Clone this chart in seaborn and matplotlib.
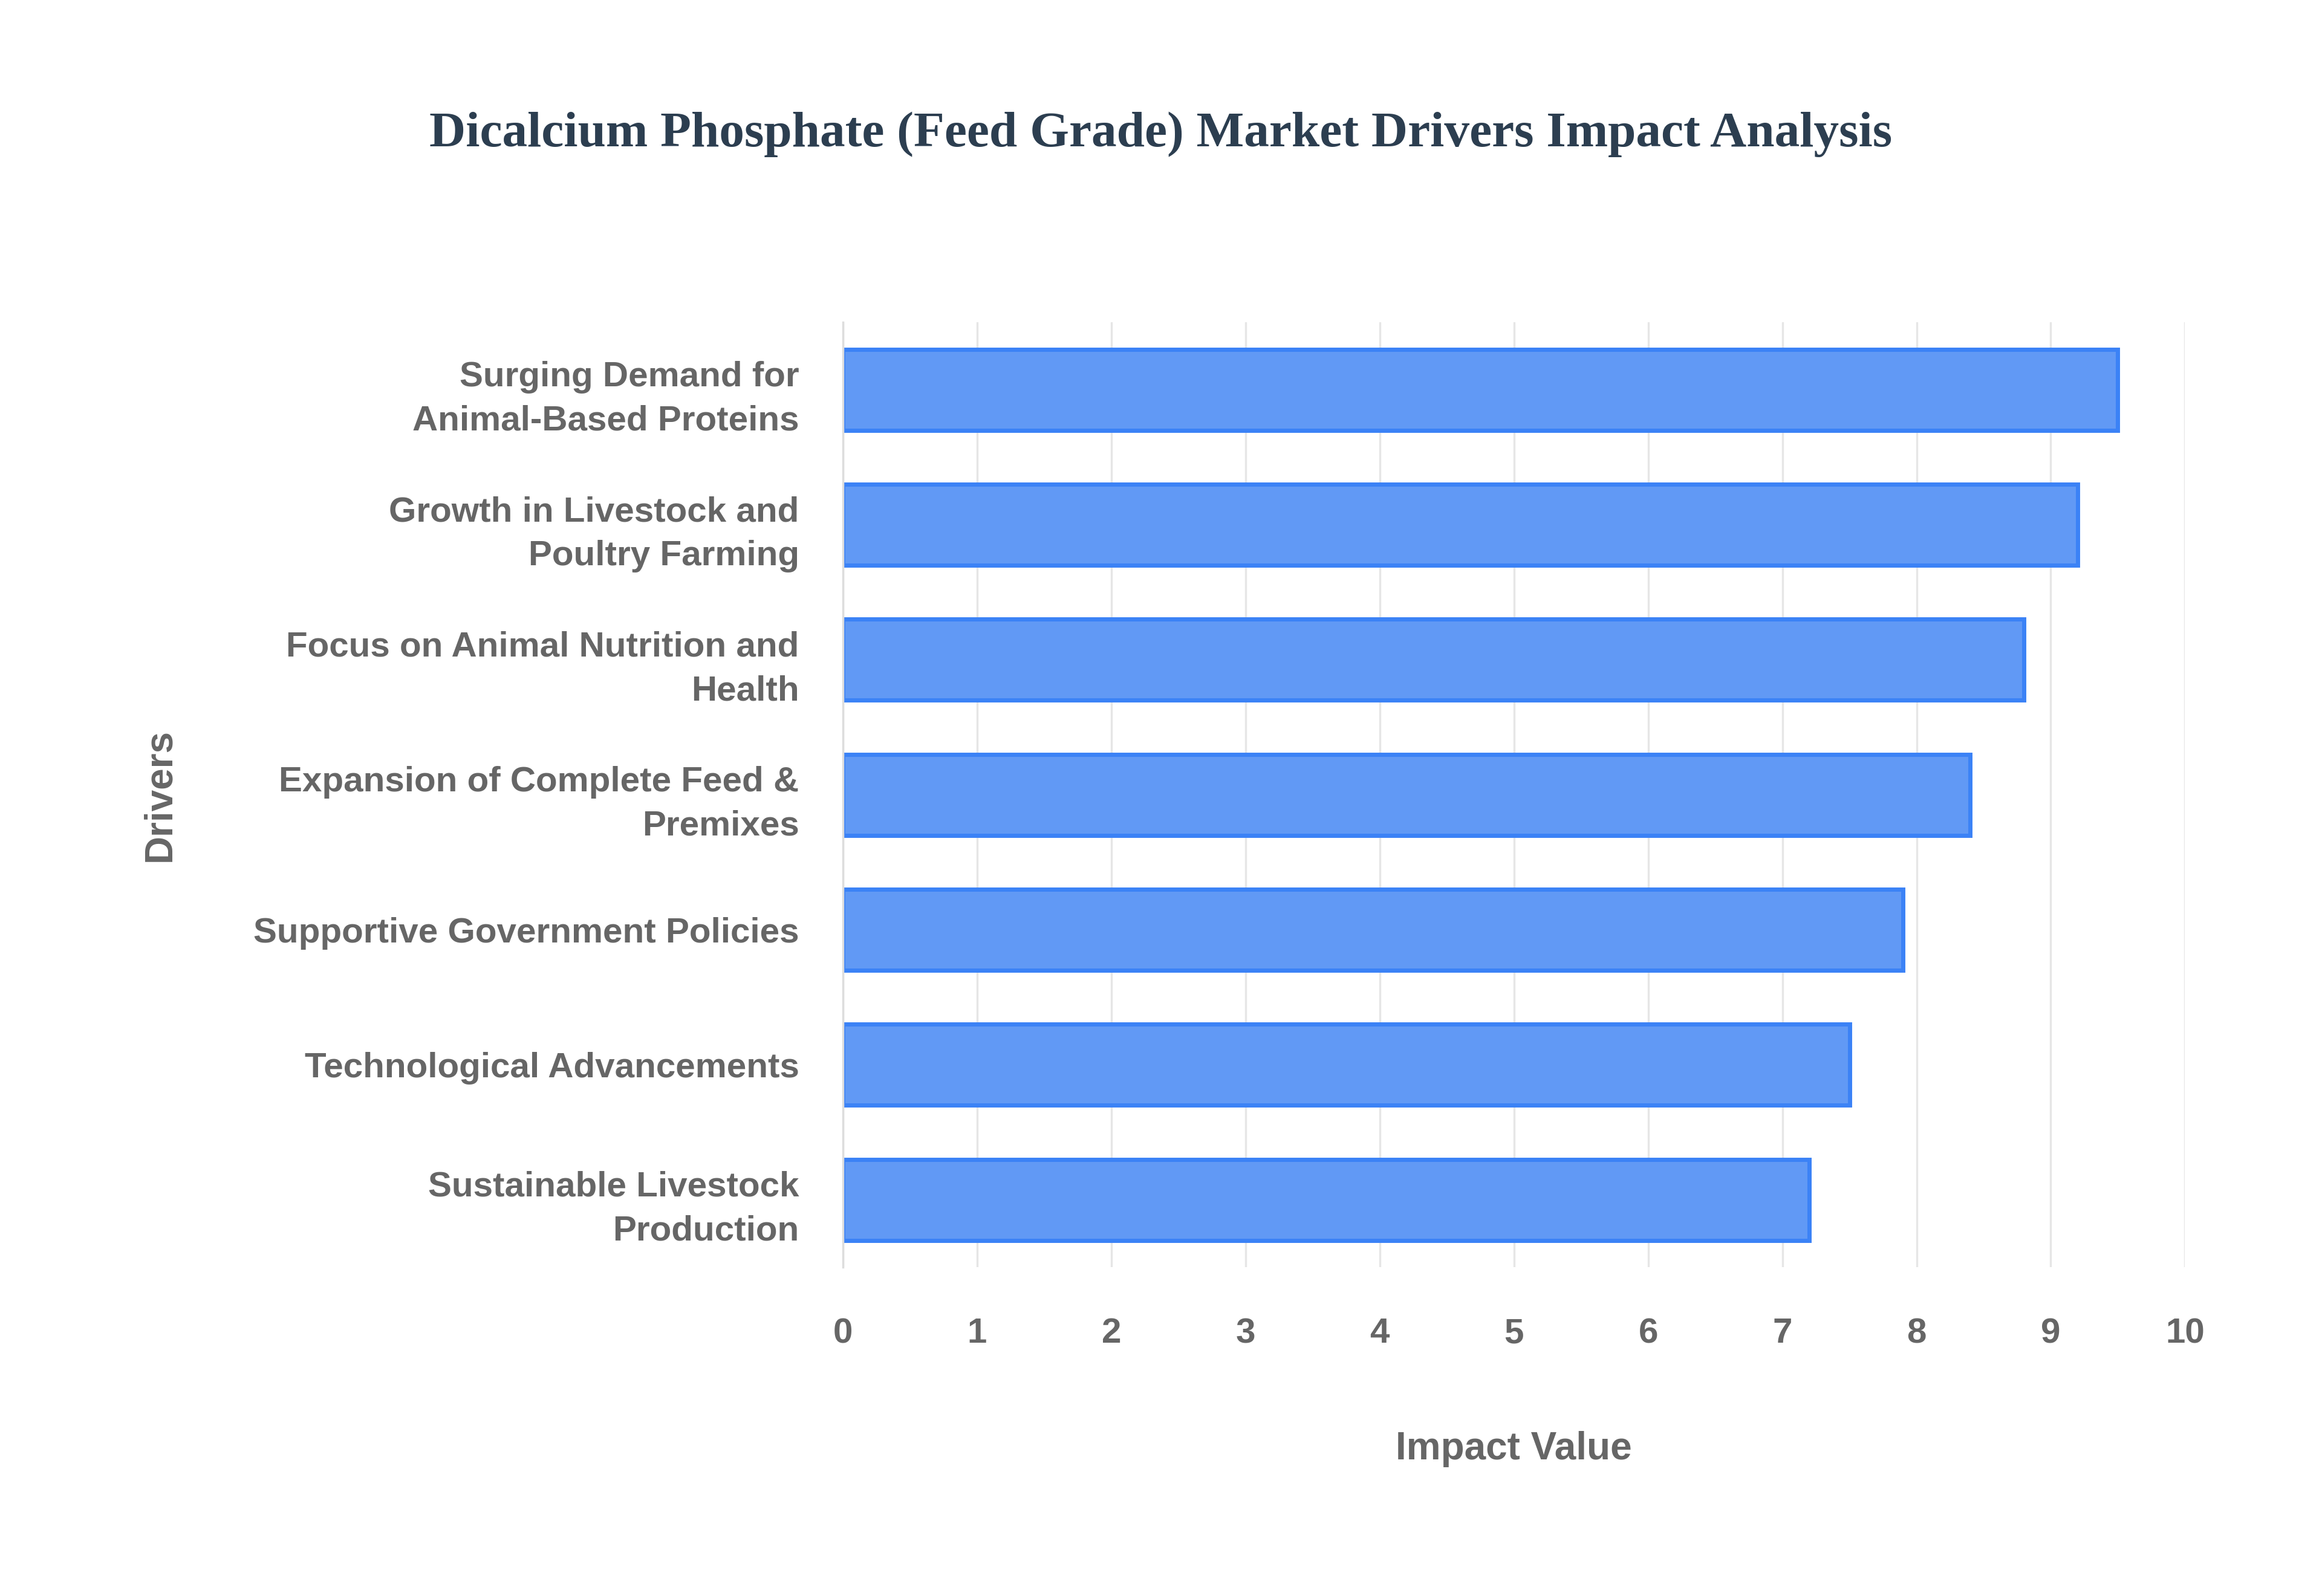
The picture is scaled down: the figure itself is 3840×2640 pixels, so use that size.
import matplotlib
matplotlib.use("Agg")
import matplotlib.pyplot as plt
import seaborn as sns
import pandas as pd

drivers = ["Surging Demand for\nAnimal-Based Proteins",
           "Growth in Livestock and\nPoultry Farming",
           "Focus on Animal Nutrition and\nHealth",
           "Expansion of Complete Feed &\nPremixes",
           "Supportive Government Policies",
           "Technological Advancements",
           "Sustainable Livestock\nProduction"]
impact = [9.5, 9.2, 8.8, 8.4, 7.9, 7.5, 7.2]
ticks = list(range(0, 11))

sns.set_theme(style="white")
plt.rcParams['font.family'] = ['Liberation Sans', 'DejaVu Sans']
df = pd.DataFrame({"Drivers": drivers, "Impact": impact})

fig = plt.figure(figsize=(19.2, 13.2), dpi=200)
ax = fig.add_axes([0.363, 0.206, 0.578, 0.592])
sns.barplot(data=df, y="Drivers", x="Impact", orient="h", ax=ax,
            color="#6199F5", edgecolor="#3B82F6", linewidth=2.5, width=0.6,
            saturation=1)
ax.set_xlim(0, 10)
ax.set_ylim(6.5, -0.5)
ax.set_xticks(ticks)
ax.grid(axis="x", color="#e6e6e6", linewidth=1.2)
ax.set_axisbelow(True)
for s in ["top", "right", "bottom"]:
    ax.spines[s].set_visible(False)
ax.spines["left"].set_color("#dddddd")
ax.tick_params(axis="y", length=0, pad=26, labelsize=21, labelcolor="#666666")
ax.tick_params(axis="x", length=0, pad=30, labelsize=21, labelcolor="#666666")
for t in ax.get_xticklabels() + ax.get_yticklabels():
    t.set_fontweight("bold")
    t.set_linespacing(1.45)
ax.set_xlabel("Impact Value", fontsize=23, fontweight="bold", color="#666666", labelpad=48)
ax.set_ylabel("Drivers", fontsize=23, fontweight="bold", color="#666666", labelpad=45)
fig.suptitle("Dicalcium Phosphate (Feed Grade) Market Drivers Impact Analysis",
             y=0.93, fontsize=30, fontweight="bold", color="#2c3e50",
             family=["Liberation Serif", "DejaVu Serif"])
fig.savefig("out.png", dpi=200, facecolor="white")
